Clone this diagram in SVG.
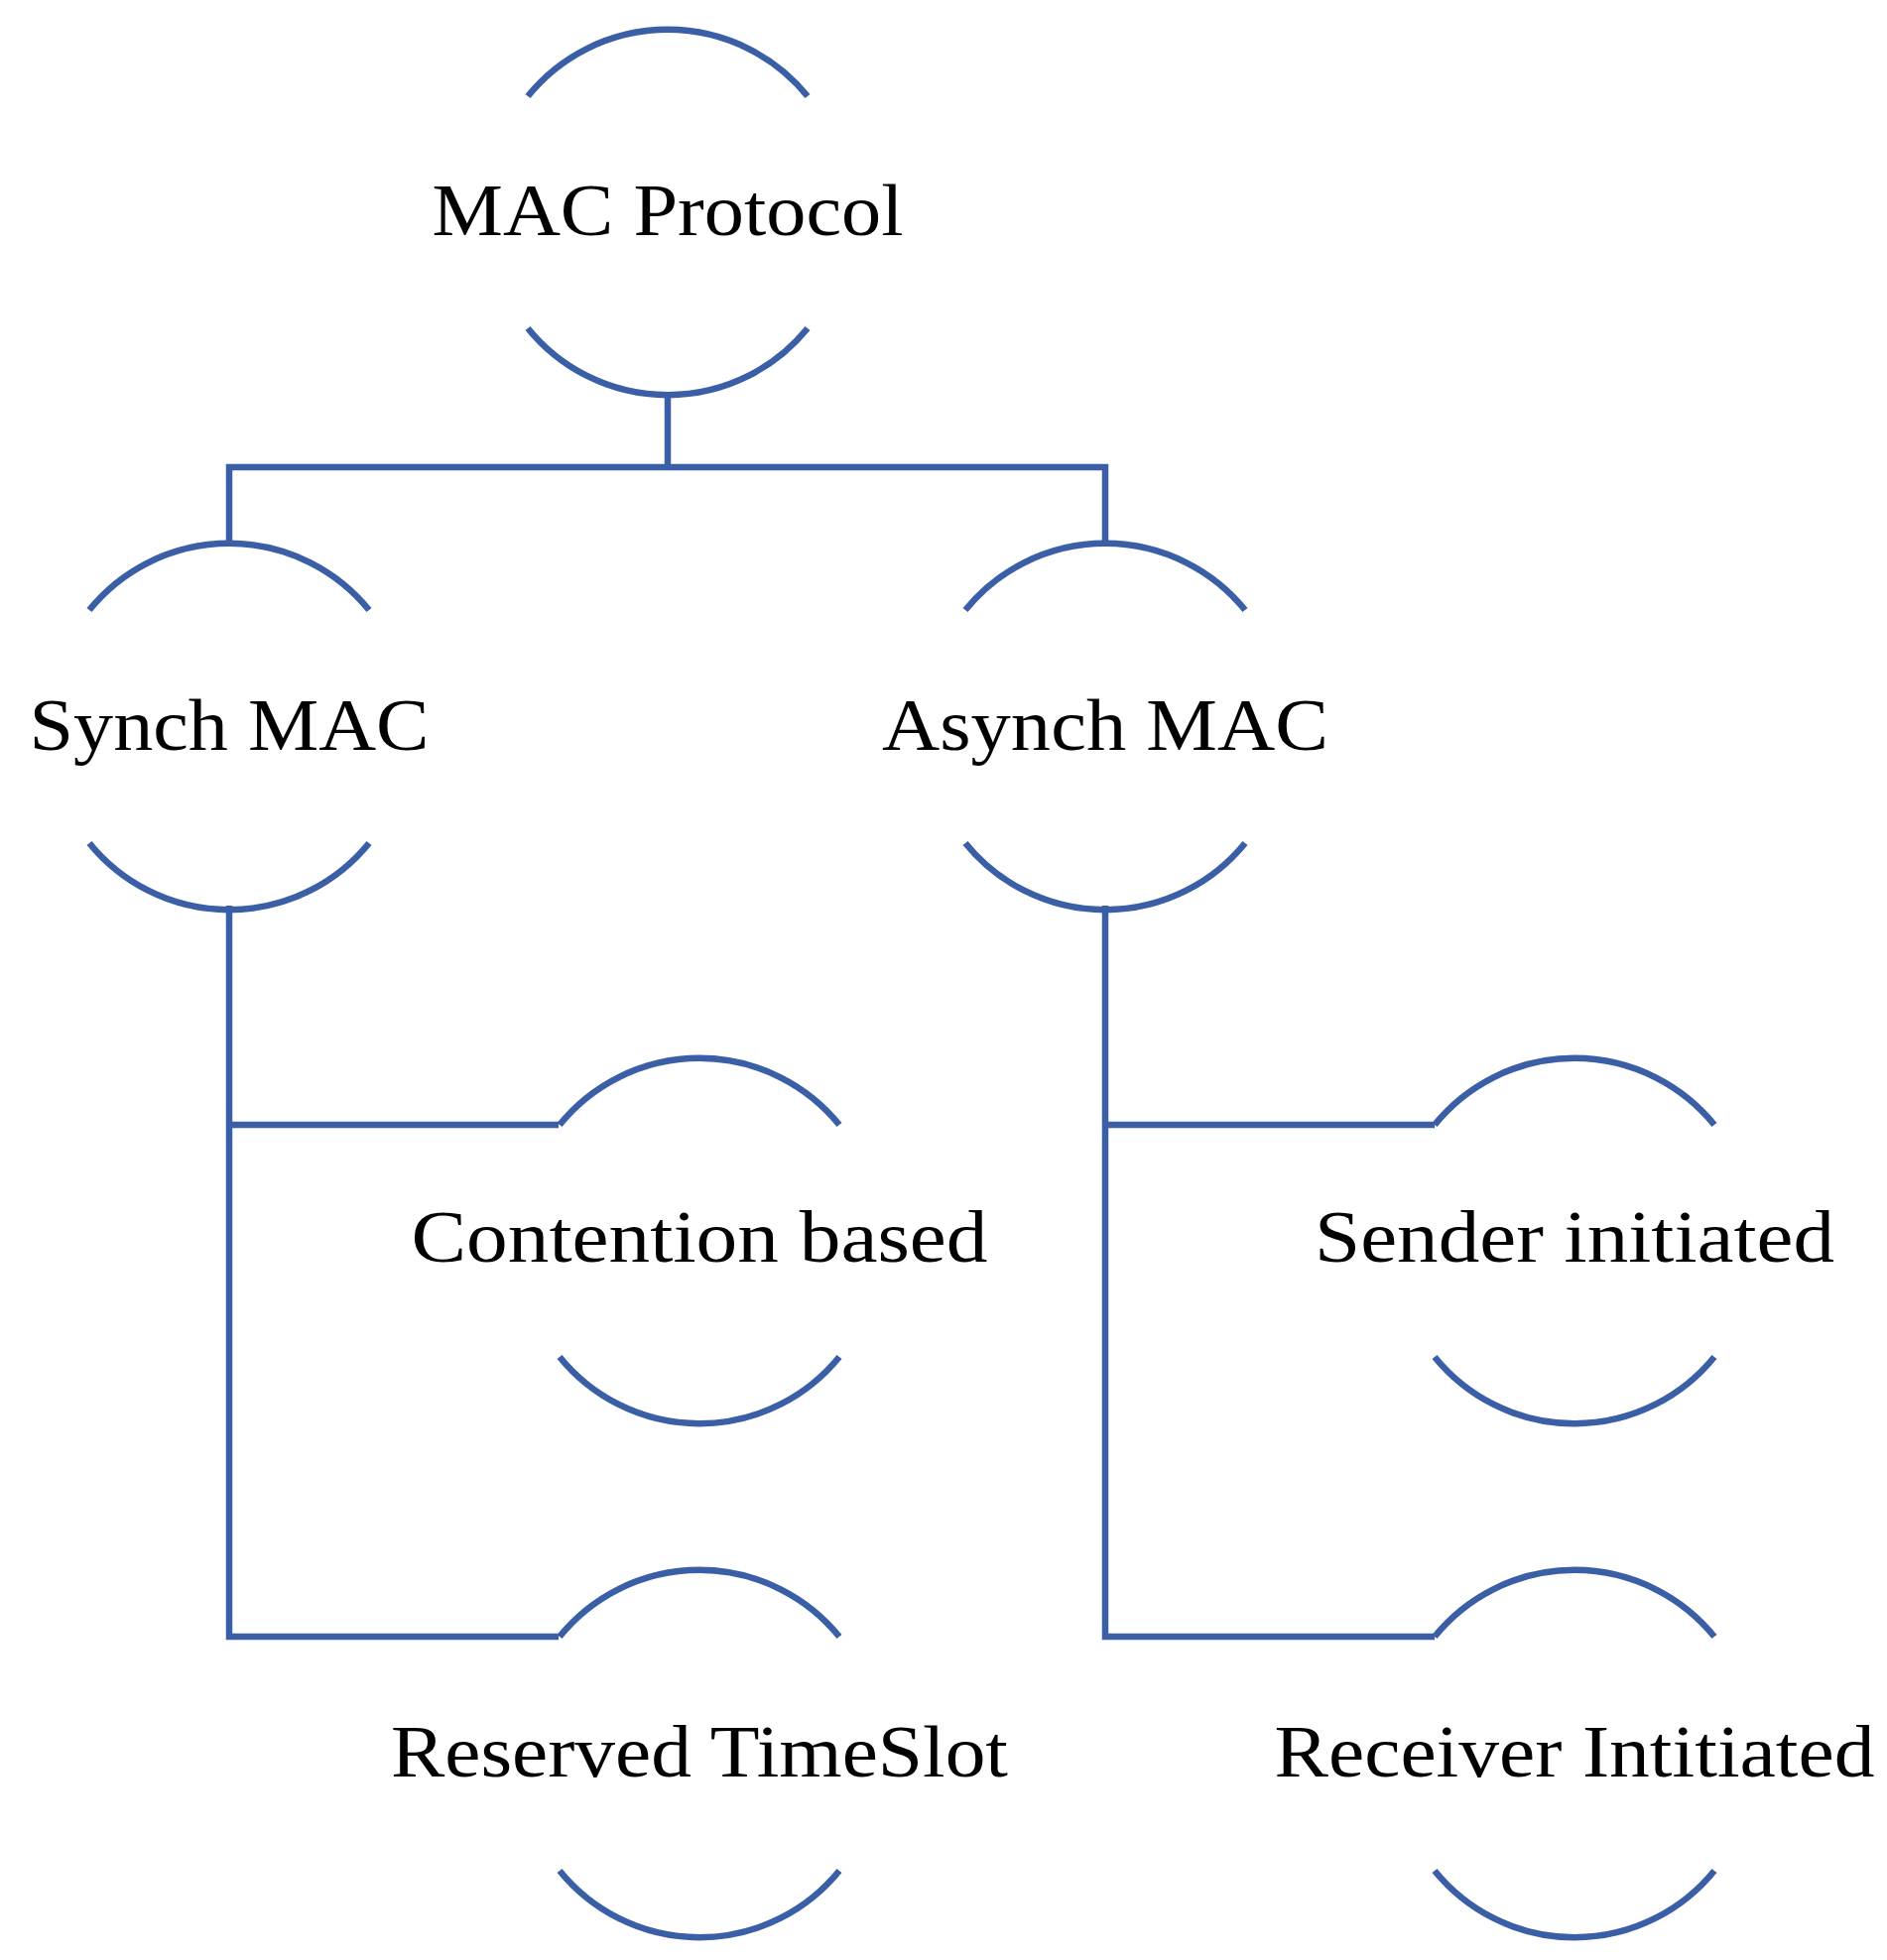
<svg xmlns="http://www.w3.org/2000/svg" width="1902" height="1976" viewBox="0 0 1902 1976">
<style>
.s{fill:none;stroke:#3b5fa6;stroke-width:6.5}
.t{font-family:"Liberation Serif","DejaVu Serif",serif;font-size:74px;fill:#000;text-anchor:middle}
</style>
<defs>
<path id="up" d="M-141,0 A181.5,181.5 0 0 1 141,0" class="s"/>
<path id="dn" d="M-141,0 A181.5,181.5 0 0 0 141,0" class="s"/>
</defs>
<rect width="1902" height="1976" fill="#fff"/>
<g id="connectors" class="s">
<path d="M673,397 V471 M231,549 V471 H1114 V549"/>
<path d="M231,913 V1650 H563 M231,1134 H563"/>
<path d="M1114,913 V1650 H1446 M1114,1134 H1446"/>
</g>
<g id="n1"><use href="#up" x="673" y="97"/><use href="#dn" x="673" y="331"/><text class="t" x="673" y="237" textLength="475" lengthAdjust="spacingAndGlyphs">MAC Protocol</text></g>
<g id="n2"><use href="#up" x="231" y="615"/><use href="#dn" x="231" y="850"/><text class="t" x="231" y="756" textLength="403" lengthAdjust="spacingAndGlyphs">Synch MAC</text></g>
<g id="n3"><use href="#up" x="1114" y="615"/><use href="#dn" x="1114" y="850"/><text class="t" x="1114" y="756" textLength="450" lengthAdjust="spacingAndGlyphs">Asynch MAC</text></g>
<g id="n4"><use href="#up" x="705" y="1134"/><use href="#dn" x="705" y="1368"/><text class="t" x="705" y="1272" textLength="581" lengthAdjust="spacingAndGlyphs">Contention based</text></g>
<g id="n5"><use href="#up" x="705" y="1650"/><use href="#dn" x="705" y="1886"/><text class="t" x="705" y="1791" textLength="622" lengthAdjust="spacingAndGlyphs">Reserved TimeSlot</text></g>
<g id="n6"><use href="#up" x="1587" y="1134"/><use href="#dn" x="1587" y="1368"/><text class="t" x="1587" y="1272" textLength="524" lengthAdjust="spacingAndGlyphs">Sender initiated</text></g>
<g id="n7"><use href="#up" x="1587" y="1650"/><use href="#dn" x="1587" y="1886"/><text class="t" x="1587" y="1791" textLength="605" lengthAdjust="spacingAndGlyphs">Receiver Intitiated</text></g>
</svg>
